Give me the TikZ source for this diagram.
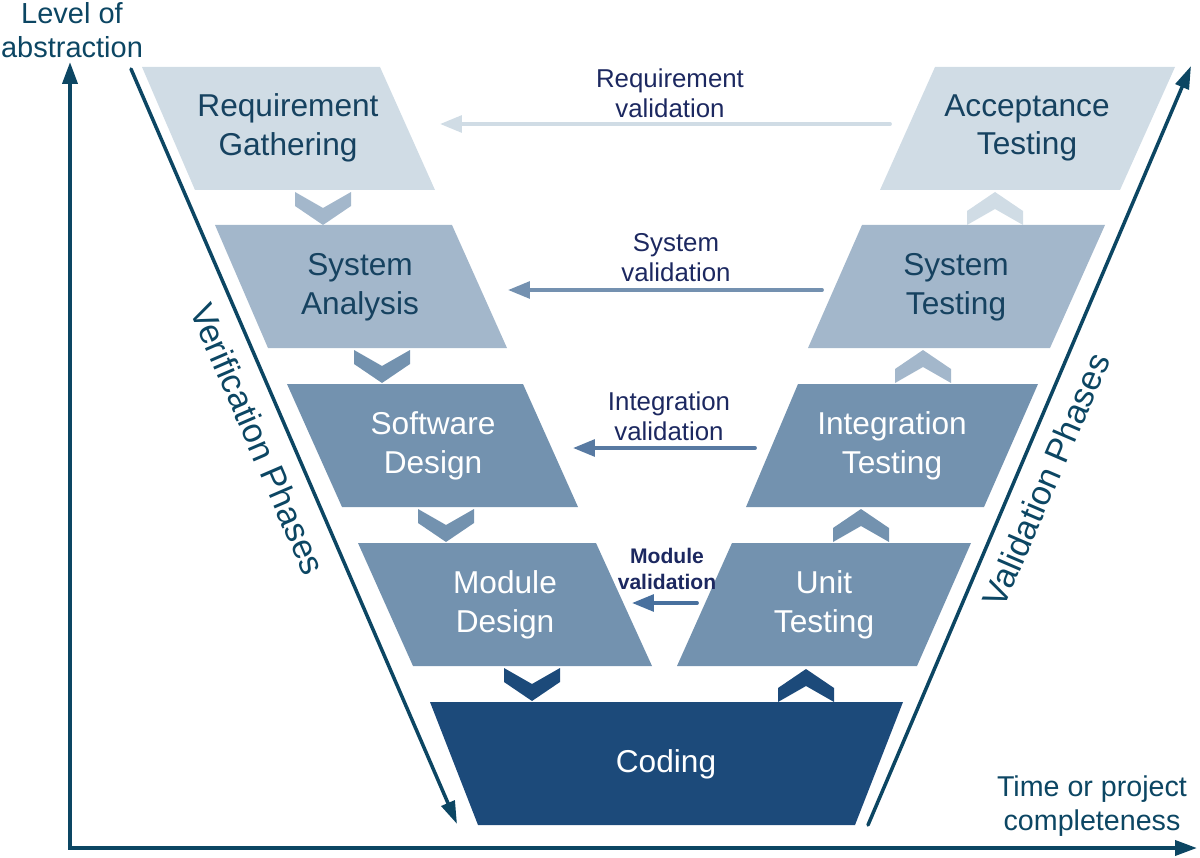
\documentclass[tikz,border=0pt]{standalone}
\usepackage{fontspec}
\setmainfont{Liberation Sans}
\usetikzlibrary{arrows.meta}

\definecolor{lvlone}{RGB}{208,220,229}
\definecolor{lvltwo}{RGB}{163,183,203}
\definecolor{lvlthree}{RGB}{115,146,175}
\definecolor{lvlcode}{RGB}{28,74,122}
\definecolor{axiscol}{RGB}{12,70,99}
\definecolor{boxtext}{RGB}{22,66,96}
\definecolor{valtext}{RGB}{28,40,96}
\definecolor{sysarrow}{RGB}{116,145,176}
\definecolor{intarrow}{RGB}{88,122,162}
\definecolor{modarrow}{RGB}{72,112,158}

\begin{document}
\begin{tikzpicture}[x=0.02cm,y=-0.02cm]
  \tikzstyle{box text}=[align=center,inner sep=0,font=\fontsize{18}{22}\selectfont]
  \tikzstyle{dark text}=[box text,text=boxtext]
  \tikzstyle{white text}=[box text,text=white]
  \tikzstyle{check text}=[align=center,inner sep=0,text=valtext,font=\fontsize{14.7}{17}\selectfont]
  \tikzstyle{axis}=[draw=axiscol,line width=2.2pt,line join=miter]
  \tikzstyle{phase line}=[draw=axiscol,line width=2pt,line cap=round,-{Triangle[length=13pt,width=8pt]}]
  \tikzstyle{phase text}=[text=axiscol,inner sep=0,font=\fontsize{19.5}{22}\selectfont]
  \tikzstyle{check arrow}=[line width=2.2pt,line cap=round,-{Triangle[length=12.5pt,width=9.5pt]}]

  \useasboundingbox (0,0) rectangle (1200,858);

  % verification side
  \fill[lvlone]   (142,67)  -- (380,67)  -- (435,190) -- (195,190) -- cycle;
  \fill[lvltwo]   (215,225) -- (452,225) -- (507,348) -- (268,348) -- cycle;
  \fill[lvlthree] (287,384) -- (523,384) -- (578,507) -- (342,507) -- cycle;
  \fill[lvlthree] (358,543) -- (596,543) -- (652,666) -- (413,666) -- cycle;
  % coding
  \fill[lvlcode]  (430,702) -- (903,702) -- (855,825) -- (478,825) -- cycle;
  % validation side
  \fill[lvlone]   (935,67)  -- (1175,67) -- (1120,190) -- (880,190) -- cycle;
  \fill[lvltwo]   (862,225) -- (1105,225) -- (1050,348) -- (808,348) -- cycle;
  \fill[lvlthree] (798,384) -- (1038,384) -- (984,507) -- (746,507) -- cycle;
  \fill[lvlthree] (732,543) -- (971,543) -- (917,666) -- (677,666) -- cycle;

  % chevrons going down
  \fill[lvltwo]   (295,192) -- ++(28,16) -- ++(28,-16) -- ++(0,14) -- ++(-28,19) -- ++(-28,-19) -- cycle;
  \fill[lvlthree] (354,350) -- ++(28,16) -- ++(28,-16) -- ++(0,14) -- ++(-28,19) -- ++(-28,-19) -- cycle;
  \fill[lvlthree] (418,509) -- ++(28,16) -- ++(28,-16) -- ++(0,14) -- ++(-28,19) -- ++(-28,-19) -- cycle;
  \fill[lvlcode]  (504,668) -- ++(28,16) -- ++(28,-16) -- ++(0,14) -- ++(-28,19) -- ++(-28,-19) -- cycle;
  % chevrons going up
  \fill[lvlcode]  (778,702) -- ++(0,-14) -- ++(28,-19) -- ++(28,19) -- ++(0,14) -- ++(-28,-16) -- cycle;
  \fill[lvlthree] (833,542) -- ++(0,-14) -- ++(28,-19) -- ++(28,19) -- ++(0,14) -- ++(-28,-16) -- cycle;
  \fill[lvltwo]   (895,383) -- ++(0,-14) -- ++(28,-19) -- ++(28,19) -- ++(0,14) -- ++(-28,-16) -- cycle;
  \fill[lvlone]   (967,225) -- ++(0,-14) -- ++(28,-19) -- ++(28,19) -- ++(0,14) -- ++(-28,-16) -- cycle;

  \node(req)[dark text]  at (288,128)  {Requirement\\Gathering};
  \node(sysan)[dark text] at (360,287) {System\\Analysis};
  \node(swd)[white text] at (433,446)  {Software\\Design};
  \node(modd)[white text] at (505,605) {Module\\Design};
  \node(code)[white text] at (666,764) {Coding};
  \node(acc)[dark text]  at (1027,128) {Acceptance\\Testing};
  \node(syst)[dark text] at (956,287)  {System\\Testing};
  \node(intt)[white text] at (892,446) {Integration\\Testing};
  \node(unit)[white text] at (824,605) {Unit\\Testing};

  % validation arrows
  \coordinate (reqtail) at (890,124);  \coordinate (reqtip) at (440,124);
  \coordinate (systail) at (822,290);  \coordinate (systip) at (508,290);
  \coordinate (inttail) at (755,448);  \coordinate (inttip) at (573,448);
  \coordinate (modtail) at (697,603);  \coordinate (modtip) at (632,603);
  \draw[check arrow,draw=lvlone,fill=lvlone] (reqtail) -- (reqtip);
  \draw[check arrow,draw=sysarrow,fill=sysarrow] (systail) -- (systip);
  \draw[check arrow,draw=intarrow,fill=intarrow] (inttail) -- (inttip);
  \draw[check arrow,draw=modarrow,fill=modarrow] (modtail) -- (modtip);

  \node(reqval)[check text] at (670,93)  {Requirement\\validation};
  \node(sysval)[check text] at (676,258) {System\\validation};
  \node(intval)[check text] at (669,416) {Integration\\validation};
  \node(modval)[check text,font=\fontsize{12}{15}\bfseries] at (667,569) {Module\\validation};

  % phases
  \coordinate (vtop) at (131,69);  \coordinate (vbot) at (457,824);
  \coordinate (tbot) at (868,825); \coordinate (ttop) at (1191,66);
  \draw[phase line] (vtop) -- (vbot);
  \draw[phase line] (tbot) -- (ttop);
  \node(verif)[phase text,rotate=-66.7] at (258,439) {Verification Phases};
  \node(valid)[phase text,rotate=66.7] at (1046,480) {Validation Phases};

  % axes
  \coordinate (o) at (70,848);
  \coordinate (ytop) at (70,62);
  \coordinate (xend) at (1197,848);
  \draw[axis,{Triangle[length=12.5pt,width=8.5pt]}-{Triangle[length=12.5pt,width=8.5pt]}] (ytop) -- (o) -- (xend);
  \node(yname)[align=center,text=axiscol,inner sep=0,font=\fontsize{16.5}{19}\selectfont] at (72,30) {Level of\\abstraction};
  \node(xname)[align=center,text=axiscol,inner sep=0,font=\fontsize{16.3}{19}\selectfont] at (1092,806) {Time or project\\completeness};
\end{tikzpicture}
\end{document}
